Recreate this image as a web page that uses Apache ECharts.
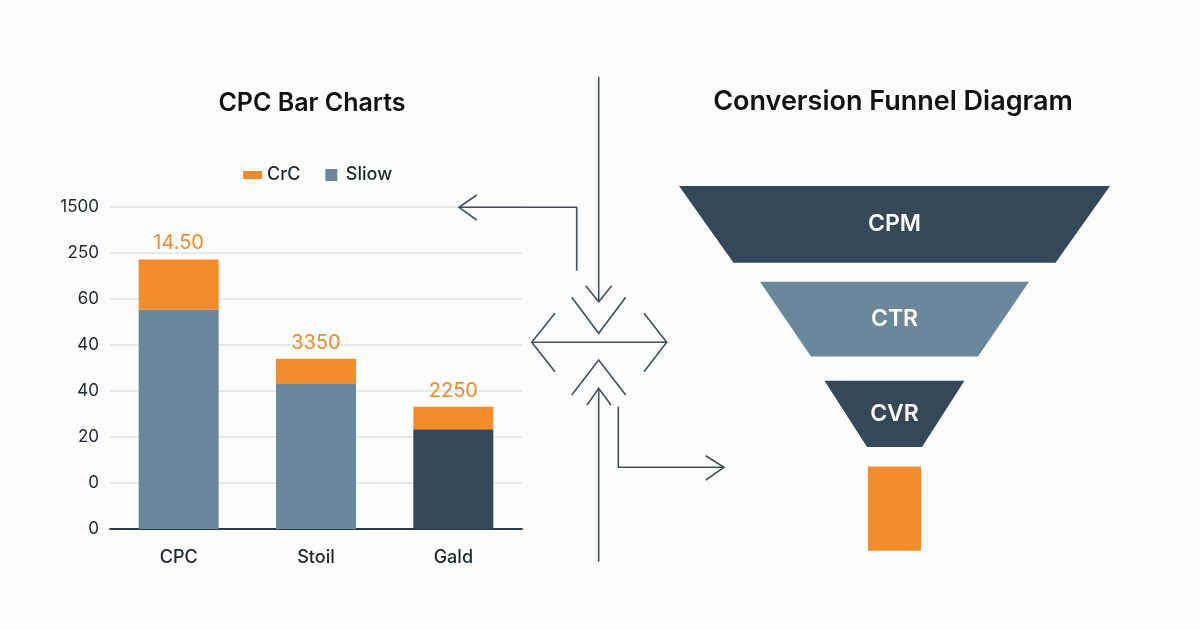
<!DOCTYPE html>
<html>
<head>
<meta charset="utf-8">
<script src="https://cdn.jsdelivr.net/npm/echarts@6/dist/echarts.min.js"></script>
<style>
html, body { margin: 0; padding: 0; background: #fdfdfd; }
#main { width: 1200px; height: 630px; }
</style>
</head>
<body>
<div id="main"></div>
<script>
// bar chart data (values are in tick steps, the tick labels are as printed)
var categories = ['CPC', 'Stoil', 'Gald'];
var yTickLabels = ['0', '0', '20', '40', '40', '60', '250', '1500'];
var sliowValues = [4.77, 3.17, 2.17];
var crcValues = [1.09, 0.53, 0.49];
var topLabels = ['14.50', '3350', '2250'];

// funnel data
var funnelStages = ['CPM', 'CTR', 'CVR', ''];
var funnelTopWidth = [431, 269, 140, 53];
var funnelBottomWidth = [322, 167, 55, 53];
var funnelDepth = [0.81, 0.79, 0.70, 0.89];

var FONT = 'Inter, "Noto Sans", sans-serif';
var ORANGE = '#f28c2c';
var SLATE = '#6a879b';
var NAVY = '#34485a';
var LINE = '#3d5163';
var funnelColors = [NAVY, SLATE, NAVY, ORANGE];

var dom = document.getElementById('main');
var myChart = echarts.init(dom);

function arrow(points) {
    return {
        type: 'polyline',
        z: 100,
        shape: { points: points },
        style: { stroke: LINE, lineWidth: 1.6, fill: 'none' }
    };
}

var option = {
    backgroundColor: '#fdfdfd',
    animation: false,
    legend: {
        left: 238,
        top: 161,
        itemWidth: 19,
        itemHeight: 12,
        itemGap: 25,
        textStyle: { fontFamily: FONT, fontSize: 18, fontWeight: 500, color: '#1c2630' },
        data: [
            { name: 'CrC', icon: 'path://M0,0h19v8h-19z' },
            { name: 'Sliow', icon: 'path://M0,0h12v12h-12z' }
        ]
    },
    grid: [{
        left: 110,
        right: 678,
        top: 207,
        bottom: 101
    }, {
        left: 679,
        right: 90,
        top: 177,
        bottom: 74
    }],
    xAxis: [{
        type: 'category',
        gridIndex: 0,
        data: categories,
        axisLine: { lineStyle: { color: '#2b3a48', width: 2 } },
        axisTick: { show: false },
        axisLabel: { fontFamily: FONT, fontSize: 18, fontWeight: 500, color: '#1c2630', margin: 20 }
    }, {
        type: 'value',
        gridIndex: 1,
        min: -215.5,
        max: 215.5,
        show: false
    }],
    yAxis: [{
        type: 'value',
        gridIndex: 0,
        min: 0,
        max: 7,
        interval: 1,
        axisLine: { show: false },
        axisTick: { show: false },
        splitLine: { lineStyle: { color: '#dde3e9', width: 1.5 } },
        axisLabel: {
            fontFamily: FONT, fontSize: 17, color: '#1c2630', margin: 11,
            formatter: function(v) { return yTickLabels[Math.round(v)]; }
        }
    }, {
        type: 'category',
        gridIndex: 1,
        inverse: true,
        data: funnelStages,
        show: false
    }],
    series: [{
        name: 'Sliow',
        type: 'bar',
        stack: 'total',
        barWidth: 80,
        itemStyle: { color: SLATE },
        data: sliowValues.map(function(v, i) {
            return i === 2 ? { value: v, itemStyle: { color: NAVY } } : v;
        })
    }, {
        name: 'CrC',
        type: 'bar',
        stack: 'total',
        barWidth: 80,
        itemStyle: { color: ORANGE },
        label: {
            show: true,
            position: 'top',
            distance: 6,
            fontFamily: FONT,
            fontSize: 20,
            color: '#ee8b2e',
            formatter: function(p) { return topLabels[p.dataIndex]; }
        },
        data: crcValues
    }, {
        type: 'custom',
        xAxisIndex: 1,
        yAxisIndex: 1,
        encode: { x: 0, y: 1 },
        data: funnelStages.map(function(s, i) {
            return [0, i, funnelTopWidth[i], funnelBottomWidth[i], funnelDepth[i]];
        }),
        renderItem: function(params, api) {
            var i = params.dataIndex;
            var c = api.coord([0, api.value(1)]);
            var band = api.size([0, 1])[1];
            var h = band * api.value(4) / 2;
            var t = api.size([api.value(2), 0])[0] / 2;
            var b = api.size([api.value(3), 0])[0] / 2;
            return {
                type: 'group',
                children: [{
                    type: 'polygon',
                    shape: {
                        points: [
                            [c[0] - t, c[1] - h], [c[0] + t, c[1] - h],
                            [c[0] + b, c[1] + h], [c[0] - b, c[1] + h]
                        ]
                    },
                    style: { fill: funnelColors[i] }
                }, {
                    type: 'text',
                    x: c[0],
                    y: c[1],
                    style: {
                        text: funnelStages[i],
                        fill: '#ffffff',
                        font: '600 23px ' + FONT,
                        align: 'center',
                        verticalAlign: 'middle'
                    }
                }]
            };
        }
    }],
    graphic: [{
        type: 'text',
        x: 312,
        y: 103,
        style: {
            text: 'CPC Bar Charts', fill: '#111111', font: '600 25px ' + FONT,
            align: 'center', verticalAlign: 'middle', textAlign: 'center', textVerticalAlign: 'middle'
        }
    }, {
        type: 'text',
        x: 893,
        y: 102,
        style: {
            text: 'Conversion Funnel Diagram', fill: '#111111', font: '600 27px ' + FONT,
            align: 'center', verticalAlign: 'middle', textAlign: 'center', textVerticalAlign: 'middle'
        }
    },
        // center arrows
        arrow([[598.7, 77], [598.7, 301.7]]),
        arrow([[585.7, 285.7], [598.7, 301.7], [611.7, 285.7]]),
        arrow([[571.7, 297.3], [598.7, 333.3], [625.7, 297.3]]),
        arrow([[531.7, 342.3], [666.7, 342.3]]),
        arrow([[555, 313.3], [531.7, 342.3], [555, 371.7]]),
        arrow([[644, 313.3], [666.7, 342.3], [644, 371.7]]),
        arrow([[571.7, 395], [598.7, 360], [625.7, 395]]),
        arrow([[598.7, 388.3], [598.7, 561.7]]),
        arrow([[587, 405], [598.7, 388.3], [611, 405]]),
        arrow([[576.7, 270.7], [576.7, 207.3], [459, 207.3]]),
        arrow([[476.7, 195], [459, 207.3], [476.7, 220]]),
        arrow([[618.3, 406.7], [618.3, 467.3], [724, 467.3]]),
        arrow([[705.7, 455.7], [724, 467.3], [705.7, 480]])
    ]
};

window.onresize = function() {
    myChart.resize();
};
if (option && typeof option === "object") {
    myChart.setOption(option, true);
}
</script>
</body>
</html>
